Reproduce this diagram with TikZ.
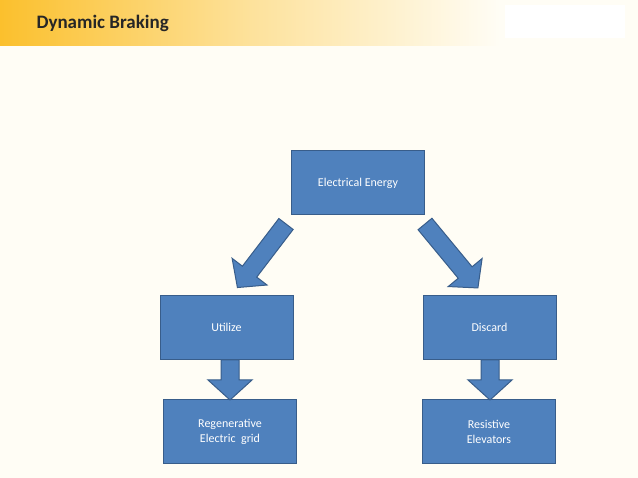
\documentclass[tikz,border=0pt]{standalone}
\usepackage{fontspec}
\setmainfont{Carlito}
\usetikzlibrary{calc}
\definecolor{bg}{HTML}{FFFDF5}
\definecolor{boxf}{HTML}{4F81BD}
\definecolor{boxd}{HTML}{385D8A}
\definecolor{hdr}{HTML}{FBC02D}
\tikzset{
 box/.style={draw=boxd,line width=1pt,fill=boxf,text=white,minimum width=133pt,minimum height=64pt,align=center,font=\fontsize{12}{15}\selectfont,inner sep=0pt},
 barrow/.style={draw=boxd,line width=1pt,fill=boxf},
 pics/blockarrow/.style args={#1}{code={
   \draw[barrow] (0,-9)--(#1-20,-9)--(#1-20,-22)--(#1,0)--(#1-20,22)--(#1-20,9)--(0,9)--cycle;}}
}
\begin{document}
\begin{tikzpicture}[x=1pt,y=-1pt]
\useasboundingbox (0,0) rectangle (638,478);
\fill[bg] (0,0) rectangle (638,478);
\shade[left color=hdr,right color=bg,middle color=hdr!45!bg] (0,0) rectangle (500,46);
\fill[bg] (500,0) rectangle (638,46);
\fill[white] (505,5) rectangle (625,38);
\node[anchor=west,font=\fontsize{19}{22}\selectfont\bfseries,text=black!85] (title) at (33,23) {Dynamic Braking};
\node[box] (ee) at (358,183) {Electrical Energy};
\node[box] (ut) at (226.5,327.5) {Utilize};
\node[box] (di) at (489.5,327.5) {Discard};
\node[box] (rg) at (230,432) {Regenerative\\Electric\ \ grid};
\node[box] (re) at (489,432) {Resistive\\Elevators};
\pic[rotate=-127.4] at (286,224) {blockarrow={80}};
\pic[rotate=-50.4] at (425,224) {blockarrow={83}};
\pic[rotate=-90] at (230,360) {blockarrow={40}};
\pic[rotate=-90] at (490,360) {blockarrow={40}};
\end{tikzpicture}
\end{document}
